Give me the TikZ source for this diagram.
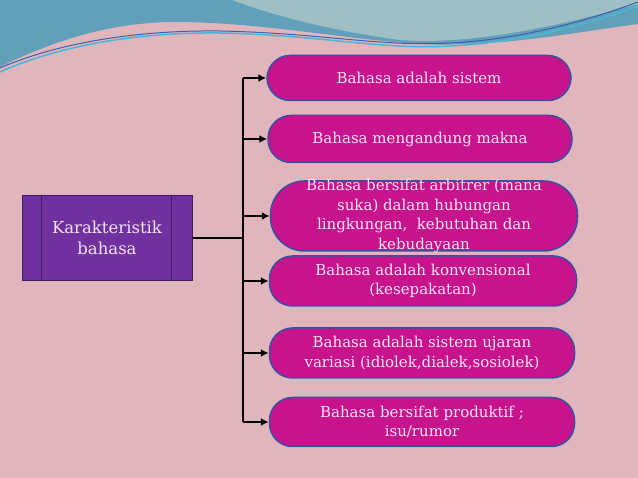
\documentclass[tikz,border=0pt]{standalone}
\usepackage{fontspec}
\setmainfont{DejaVu Serif}
\usetikzlibrary{arrows.meta,shapes}
\definecolor{Paper}{RGB}{224,181,187}
\definecolor{Sea}{RGB}{98,160,186}
\definecolor{Foam}{RGB}{158,192,196}
\definecolor{WaveBlue}{RGB}{60,95,175}
\definecolor{WaveCyan}{RGB}{70,185,215}
\definecolor{Purple}{RGB}{112,48,160}
\definecolor{DarkPurple}{RGB}{62,28,96}
\definecolor{Magenta}{RGB}{200,20,140}
\definecolor{EdgeBlue}{RGB}{55,80,160}
\definecolor{PinkText}{RGB}{255,228,245}
\definecolor{LilacText}{RGB}{242,228,242}

\tikzset{
  item/.style={draw=EdgeBlue, line width=1.5pt, fill=Magenta, text=PinkText,
    rounded corners=23pt, minimum width=304pt, minimum height=47pt,
    align=center, inner ysep=1pt, font=\fontsize{15}{19.5}\selectfont},
  link/.style={line width=2.5pt, draw=black},
}

\begin{document}
\begin{tikzpicture}[x=1pt,y=-1pt]
\useasboundingbox (0,0) rectangle (638,478);

% background
\fill[Paper] (0,0) rectangle (638,478);
\fill[Sea] (0,0) -- (0,67) .. controls (50,42) and (110,22) .. (175,22) .. controls (260,22) and (350,40) .. (420,44) .. controls (500,48) and (590,30) .. (638,24) -- (638,0) -- cycle;
\fill[Foam] (232,0) .. controls (280,18) and (340,32) .. (400,40) .. controls (480,46) and (580,20) .. (638,4) -- (638,0) -- cycle;
\draw[WaveCyan, line width=1.5pt] (0,72) .. controls (60,45) and (140,32) .. (220,33) .. controls (320,35) and (380,50) .. (450,46) .. controls (530,42) and (600,20) .. (638,6);
\draw[WaveBlue, line width=1pt] (0,68) .. controls (60,42) and (140,30) .. (220,31) .. controls (320,33) and (380,47) .. (450,43) .. controls (530,39) and (600,16) .. (638,2);

\node[draw=DarkPurple, line width=1pt, fill=Purple, text=LilacText, minimum width=170pt, minimum height=85pt, align=center, font=\fontsize{16.5}{21}\selectfont] (root) at (107,238) {Karakteristik\\bahasa};
\draw[DarkPurple, line width=1pt] ([xshift=20pt]root.north west) -- ([xshift=20pt]root.south west);
\draw[DarkPurple, line width=1pt] ([xshift=-21pt]root.north east) -- ([xshift=-21pt]root.south east);

\node[item, minimum height=45pt] (n1) at (419,78) {Bahasa adalah sistem};
\node[item] (n2) at (420,139) {Bahasa mengandung makna};
\node[item, minimum width=307pt, minimum height=70pt, rounded corners=34pt, inner ysep=-6pt] (n3) at (424,216) {Bahasa bersifat arbitrer (mana\\suka) dalam hubungan\\lingkungan,\ \ kebutuhan dan\\kebudayaan};
\node[item, minimum width=307pt, minimum height=50pt] (n4) at (423,281) {Bahasa adalah konvensional\\(kesepakatan)};
\node[item, minimum width=305pt, minimum height=50pt] (n5) at (422,353) {Bahasa adalah sistem ujaran\\variasi (idiolek,dialek,sosiolek)};
\node[item, minimum width=305pt, minimum height=49pt] (n6) at (422,422) {Bahasa bersifat produktif ;\\isu/rumor};

\coordinate (jn) at (243,238);
\draw[link] (root) -- (jn);
\draw[link] (n1 -| jn) -- (n6 -| jn);
\draw[link,-{Latex[length=8pt,width=8pt]}] (n1 -| jn) -- (n1.west);
\draw[link,-{Latex[length=8pt,width=8pt]}] (n2 -| jn) -- (n2.west);
\draw[link,-{Latex[length=8pt,width=8pt]}] (n3 -| jn) -- (n3.west);
\draw[link,-{Latex[length=8pt,width=8pt]}] (n4 -| jn) -- (n4.west);
\draw[link,-{Latex[length=8pt,width=8pt]}] (n5 -| jn) -- (n5.west);
\draw[link,-{Latex[length=8pt,width=8pt]}] (n6 -| jn) -- (n6.west);

\end{tikzpicture}
\end{document}
